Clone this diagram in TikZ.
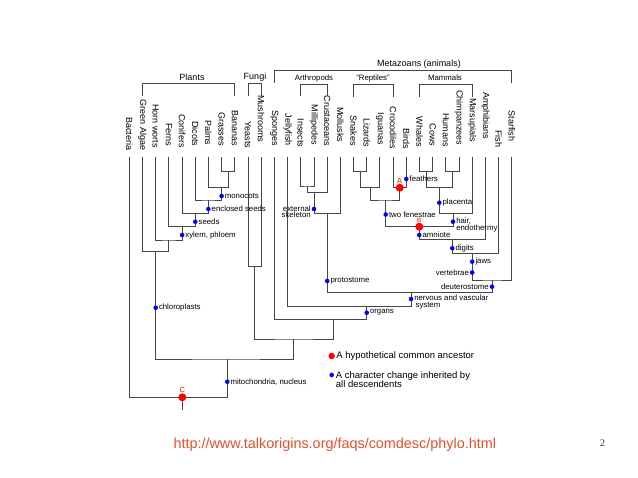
\documentclass[tikz,border=0pt]{standalone}
\usepackage{fontspec}
\setmainfont{Liberation Sans}
\newfontfamily\pagefont{Liberation Serif}
\usetikzlibrary{positioning}

\definecolor{linegray}{RGB}{70,70,70}
\definecolor{dotblue}{RGB}{0,0,255}
\definecolor{dotred}{RGB}{255,0,0}
\definecolor{linkorange}{RGB}{222,82,44}

\begin{document}
\begin{tikzpicture}[x=1pt, y=-1pt,
  branch/.style={draw=linegray, line width=0.9pt},
  leaf node/.style={rotate=-90, inner sep=0pt, font=\fontsize{9}{9}\selectfont},
  group node/.style={inner sep=0pt, font=\fontsize{9}{9}\selectfont},
  small node/.style={inner sep=0pt, font=\fontsize{7.8}{7.8}\selectfont},
  note node/.style={inner sep=0.6pt, align=left, font=\fontsize{7.8}{6.5}\selectfont},
  change dot/.style={circle, fill=dotblue, inner sep=0pt, minimum size=4.6pt},
  ancestor dot/.style={circle, fill=dotred, inner sep=0pt, minimum size=8pt},
  ancestor label/.style={inner sep=0pt, text=dotred, font=\fontsize{7.5}{7.5}\selectfont}]

\fill[white] (0,0) rectangle (638,478);
\useasboundingbox (0,0) rectangle (638,478);

% leaves
\foreach \i/\nm/\txt/\cy in {0/bac/Bacteria/134, 1/alg/Green Algae/125, 2/hrn/Horn worts/126,
    3/fer/Ferns/135, 4/con/Conifers/131, 5/dic/Dicots/134, 6/pal/Palms/133, 7/gra/Grasses/129,
    8/ban/Bananas/128, 9/yea/Yeasts/135, 10/mus/Mushrooms/119, 11/spo/Sponges/128,
    12/jel/Jellyfish/130, 13/ins/Insects/133, 14/mil/Millipedes/125, 15/cru/Crustaceans/121,
    16/mol/Mollusks/125, 17/sna/Snakes/131, 18/liz/Lizards/133, 19/igu/Iguanas/129,
    20/cro/Crocodiles/128, 21/bir/Birds/139, 22/wha/Whales/132, 23/cow/Cows/135,
    24/hum/Humans/130, 25/chi/Chimpanzees/118, 26/mar/Marsupials/120, 27/amp/Amphibians/116,
    28/fis/Fish/139, 29/sta/Starfish/126}
{
  \coordinate (\nm) at ({129.3+13.19*\i},157);
  \node[leaf node] (\nm lab) at ({129.3+13.19*\i},\cy) {\txt};
}

% groups
\node[group node] (plants) at (192,77) {Plants};
\node[group node] (fungi) at (255,77) {Fungi};
\node[group node] (metazoa) at (419,64) {Metazoans (animals)};
\node[small node] (arthropods) at (314,78) {Arthropods};
\node[small node] (reptiles) at (373,78) {"Reptiles"};
\node[small node] (mammals) at (445,78) {Mammals};

\draw[branch] (142.5,96) |- (234.8,83) -- (234.8,96);
\draw[branch] (248,96) |- (261.2,83) -- (261.2,96);
\draw[branch] (274.4,83) |- (511.8,70) -- (511.8,83);
\draw[branch] (300.8,96) |- (327.2,84) -- (327.2,96);
\draw[branch] (353.5,97) |- (393.1,84) -- (393.1,97);
\draw[branch] (419.5,97) |- (472.2,84) -- (472.2,97);

% clades
\coordinate (gb) at (228.2,171.7);
\coordinate (pgb) at (221.6,187.7);
\coordinate (dm) at (208.4,200);
\coordinate (cdm) at (195.3,213.3);
\coordinate (fcd) at (182.1,226.7);
\coordinate (hfc) at (168.9,240);
\coordinate (pla) at (155.7,251.7);
\coordinate (fun) at (254.6,266.7);
\coordinate (ims) at (307.4,186);
\coordinate (art) at (314,192.7);
\coordinate (pro) at (327.2,213.3);
\coordinate (sl) at (360.1,171.7);
\coordinate (sli) at (370,187.7);
\coordinate (cb) at (399.7,187.7);
\coordinate (rep) at (385.7,200);
\coordinate (wc) at (426.1,171.7);
\coordinate (hc) at (452.5,171.7);
\coordinate (pl) at (439.3,187.7);
\coordinate (mam) at (453,213.3);
\coordinate (amn) at (419.3,226.7);
\coordinate (tet) at (452.3,239.3);
\coordinate (gna) at (472.2,253.3);
\coordinate (deu) at (492,280);
\coordinate (bil) at (411,292.7);
\coordinate (eum) at (366.7,306.7);
\coordinate (met) at (333.3,319.3);
\coordinate (opi) at (293.8,339);
\coordinate (euk) at (227.3,359);
\coordinate (root) at (182.3,397.3);
\coordinate (base) at (182.3,410);

\draw[branch] (gra) |- (gb) -| (ban);
\draw[branch] (pal) |- (pgb) -| (gb);
\draw[branch] (dic) |- (dm) -| (pgb);
\draw[branch] (con) |- (cdm) -| (dm);
\draw[branch] (fer) |- (fcd) -| (cdm);
\draw[branch] (hrn) |- (hfc) -| (fcd);
\draw[branch] (alg) |- (pla) -| (hfc);
\draw[branch] (yea) |- (fun) -| (mus);
\draw[branch] (ins) |- (ims) -| (mil);
\draw[branch] (ims) |- (art) -| (cru);
\draw[branch] (art) |- (pro) -| (mol);
\draw[branch] (sna) |- (sl) -| (liz);
\draw[branch] (sl) |- (sli) -| (igu);
\draw[branch] (cro) |- (cb) -| (bir);
\draw[branch] (sli) |- (rep) -| (cb);
\draw[branch] (wha) |- (wc) -| (cow);
\draw[branch] (hum) |- (hc) -| (chi);
\draw[branch] (wc) |- (pl) -| (hc);
\draw[branch] (pl) |- (mam) -| (mar);
\draw[branch] (rep) |- (amn) -| (mam);
\draw[branch] (amn) |- (tet) -| (amp);
\draw[branch] (tet) |- (gna) -| (fis);
\draw[branch] (gna) |- (deu) -| (sta);
\draw[branch] (pro) |- (bil) -| (deu);
\draw[branch] (jel) |- (eum) -| (bil);
\draw[branch] (spo) |- (met) -| (eum);
\draw[branch] (fun) |- (opi) -| (met);
\draw[branch] (pla) |- (euk) -| (opi);
\draw[branch] (bac) |- (root) -| (euk);
\draw[branch] (root) -- (base);

% character changes
\node[change dot] (monocots) at (221.6,196) {};
\node[note node, right=0pt of monocots] (monocots txt) {monocots};
\node[change dot] (enclosed) at (208.4,209) {};
\node[note node, right=0pt of enclosed] (enclosed txt) {enclosed seeds};
\node[change dot] (seeds) at (195.3,221.7) {};
\node[note node, right=0pt of seeds] (seeds txt) {seeds};
\node[change dot] (xylem) at (182.1,235) {};
\node[note node, right=0pt of xylem] (xylem txt) {xylem, phloem};
\node[change dot] (chloro) at (155.7,307.7) {};
\node[note node, right=0pt of chloro] (chloro txt) {chloroplasts};
\node[change dot] (mito) at (227.3,381.7) {};
\node[note node, right=0pt of mito] (mito txt) {mitochondria, nucleus};
\node[change dot] (exoskel) at (314,209) {};
\node[note node, align=right, left=0pt of exoskel, yshift=-2.6pt] (exoskel txt) {external\\skeleton};
\node[change dot] (proto) at (327.2,281) {};
\node[note node, right=0pt of proto] (proto txt) {protostome};
\node[change dot] (organs) at (366.7,312.7) {};
\node[note node, right=0pt of organs] (organs txt) {organs};
\node[change dot] (nerves) at (411,299) {};
\node[note node, right=0pt of nerves, yshift=-3pt] (nerves txt) {nervous and vascular\\\,system};
\node[change dot] (deutero) at (492,286.7) {};
\node[note node, left=0pt of deutero] (deutero txt) {deuterostome};
\node[change dot] (verteb) at (472.2,272.5) {};
\node[note node, left=0pt of verteb] (verteb txt) {vertebrae};
\node[change dot] (jaws) at (472.2,261.7) {};
\node[note node, right=0pt of jaws] (jaws txt) {jaws};
\node[change dot] (digits) at (452.3,248.3) {};
\node[note node, right=0pt of digits] (digits txt) {digits};
\node[change dot] (amniote) at (419.3,235) {};
\node[note node, right=0pt of amniote] (amniote txt) {amniote};
\node[change dot] (hair) at (453,221.7) {};
\node[note node, right=0pt of hair, yshift=-3.4pt] (hair txt) {hair,\\endothermy};
\node[change dot] (placenta) at (439.3,202.7) {};
\node[note node, right=0pt of placenta] (placenta txt) {placenta};
\node[change dot] (fenestrae) at (385.7,214.5) {};
\node[note node, right=0pt of fenestrae] (fenestrae txt) {two fenestrae};
\node[change dot] (feathers) at (406.3,179) {};
\node[note node, right=0pt of feathers] (feathers txt) {feathers};

% common ancestors
\node[ancestor dot] (anc a) at (cb) {};
\node[ancestor label, above=0pt of anc a] (anc a lab) {A};
\node[ancestor dot] (anc b) at (amn) {};
\node[ancestor label, font=\fontsize{6.2}{6.2}\selectfont, above=-0.6pt of anc b] (anc b lab) {B};
\node[ancestor dot] (anc c) at (root) {};
\node[ancestor label, above=0pt of anc c] (anc c lab) {C};

% legend
\node[ancestor dot, minimum size=6.5pt] (key red) at (331.7,356) {};
\node[inner sep=0pt, right=1pt of key red, font=\fontsize{9.5}{9.5}\selectfont] (key red txt) {A hypothetical common ancestor};
\node[change dot] (key blue) at (331.7,375) {};
\node[inner sep=0pt, align=left, right=1.5pt of key blue, yshift=-4.6pt,
  font=\fontsize{9.5}{9.3}\selectfont] (key blue txt) {A character change inherited by\\all descendents};

\node[inner sep=0pt, anchor=west, text=linkorange, font=\fontsize{14.4}{14.4}\selectfont] (url) at (173.3,445)
  {http://www.talkorigins.org/faqs/comdesc/phylo.html};
\node[inner sep=0pt, text=black!80, font=\pagefont\fontsize{10}{10}\selectfont] (page) at (602.7,442.7) {2};

\end{tikzpicture}
\end{document}
